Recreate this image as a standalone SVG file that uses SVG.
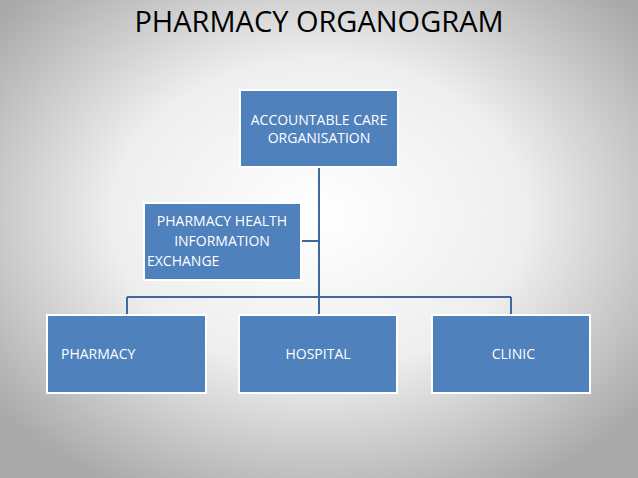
<svg xmlns="http://www.w3.org/2000/svg" width="638" height="478" viewBox="0 0 638 478">
<defs>
<radialGradient id="bg" cx="50%" cy="45%" r="65%">
<stop offset="0" stop-color="#ffffff"/>
<stop offset="0.5" stop-color="#eeeeee"/>
<stop offset="1" stop-color="#a9a9a9"/>
</radialGradient>
<style>
.box{fill:#4f81bd;stroke:#ffffff;stroke-width:2}
.t{font-family:"Open Sans","Liberation Sans",sans-serif;font-size:14px;fill:#ffffff}
.c{fill:none;stroke:#41689a;stroke-width:2}
</style>
</defs>
<rect width="638" height="478" fill="url(#bg)"/>
<text x="319" y="32" text-anchor="middle" font-family="Open Sans, Liberation Sans, sans-serif" font-size="29" fill="#000">PHARMACY ORGANOGRAM</text>
<g id="connectors">
<path class="c" d="M319 167V314M301 241H319M127 297H511M127 297V314M511 297V314"/>
</g>
<g id="aco">
<rect class="box" x="240" y="90" width="158" height="77"/>
<text class="t" x="319" y="125" text-anchor="middle">ACCOUNTABLE CARE</text>
<text class="t" x="319" y="143" text-anchor="middle">ORGANISATION</text>
</g>
<g id="phie">
<rect class="box" x="144" y="203" width="157" height="77"/>
<text class="t" x="222" y="226" text-anchor="middle">PHARMACY HEALTH</text>
<text class="t" x="222" y="246" text-anchor="middle">INFORMATION</text>
<text class="t" x="147" y="266">  EXCHANGE</text>
</g>
<g id="pharmacy">
<rect class="box" x="47" y="315" width="159" height="78"/>
<text class="t" x="61" y="359">PHARMACY</text>
</g>
<g id="hospital">
<rect class="box" x="239" y="315" width="158" height="78"/>
<text class="t" x="318" y="359" text-anchor="middle">HOSPITAL</text>
</g>
<g id="clinic">
<rect class="box" x="432" y="315" width="158" height="78"/>
<text class="t" x="535" y="359" text-anchor="end">CLINIC</text>
</g>
</svg>
